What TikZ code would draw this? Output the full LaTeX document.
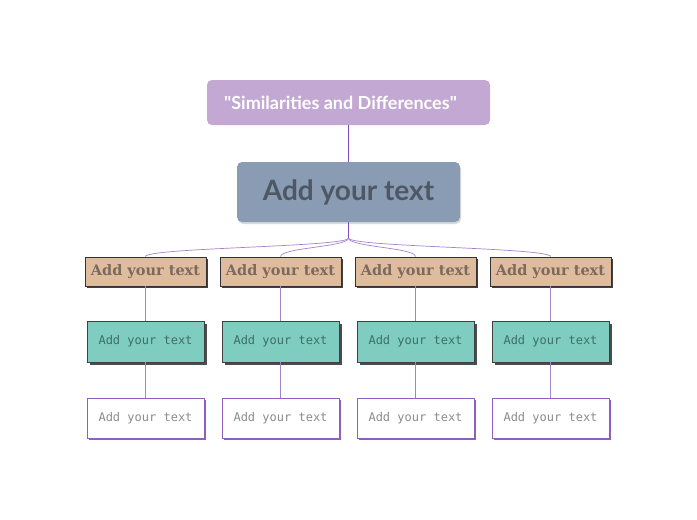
\documentclass[tikz,border=0pt]{standalone}
\usepackage{fontspec}
\setmainfont{Lato}[Ligatures=TeXOff]
\newfontfamily\slabfont{DejaVu Serif}
\newfontfamily\codefont{DejaVu Sans Mono}
\usetikzlibrary{shadows}

\definecolor{titlepurple}{HTML}{C3A8D3}
\definecolor{mainblue}{HTML}{8A9CB4}
\definecolor{maintext}{HTML}{4E5864}
\definecolor{sidetan}{HTML}{E0BC9F}
\definecolor{sidetext}{HTML}{7C6A5C}
\definecolor{noteteal}{HTML}{7ECDC0}
\definecolor{notetext}{HTML}{3E6E66}
\definecolor{blankpurple}{HTML}{8E5FBE}
\definecolor{blanktext}{HTML}{8C8C8C}
\definecolor{linkpurple}{HTML}{A383CB}
\definecolor{linkdark}{HTML}{7E4FB0}

\begin{document}
\begin{tikzpicture}[x=1pt, y=-1pt,
    link/.style = {draw = linkpurple, line width = 0.7pt},
    titlebox/.style = {fill = titlepurple, rounded corners = 5pt, text = white,
      minimum width = 283pt, minimum height = 45pt, inner sep = 0pt,
      font = \fontsize{18}{21}\selectfont\bfseries},
    mainbox/.style = {fill = mainblue, rounded corners = 5pt, text = maintext,
      minimum width = 223pt, minimum height = 60pt, inner sep = 0pt,
      drop shadow = {shadow xshift = 1pt, shadow yshift = -2pt, fill = black, opacity = 0.15},
      font = \fontsize{28}{32}\selectfont\bfseries},
    sidebox/.style = {fill = sidetan, draw = black!80, line width = 0.8pt, text = sidetext,
      minimum width = 121pt, minimum height = 29pt, inner sep = 0pt,
      drop shadow = {shadow xshift = 2pt, shadow yshift = -2pt, fill = black!75, opacity = 1},
      font = \slabfont\bfseries\fontsize{14.5}{17}\selectfont},
    notebox/.style = {fill = noteteal, draw = black!75, line width = 0.8pt, text = notetext,
      minimum width = 117pt, minimum height = 41pt, inner sep = 0pt,
      drop shadow = {shadow xshift = 2.5pt, shadow yshift = -2.5pt, fill = black!70, opacity = 1},
      font = \codefont\fontsize{12}{14}\selectfont},
    blankbox/.style = {fill = white, draw = blankpurple, line width = 0.8pt, text = blanktext,
      minimum width = 117pt, minimum height = 40pt, inner sep = 0pt,
      drop shadow = {shadow xshift = 2pt, shadow yshift = -2pt, fill = blankpurple, opacity = 1},
      font = \codefont\fontsize{12}{14}\selectfont}]
  \useasboundingbox [fill = white] (0,0) rectangle (697,520);

  \node [titlebox] (title) at (348.5,102.5) {"Similarities and Differences"\kern16pt};
  \node [mainbox] (main) at (348.5,192) {Add your text};
  \draw [link, draw = linkdark] (title) -- (main);

  \coordinate (fork) at (348.5,238);
  \draw [link, draw = linkdark] (main.south) -- (fork);

  \foreach \i/\x in {1/145.5, 2/280.5, 3/415.5, 4/550.5} {
    \node [sidebox] (side\i) at (\x,271.5) {Add your text};
    \node [notebox] (note\i) at (\x,341.5) {Add your text};
    \node [blankbox] (blank\i) at (\x,418) {Add your text};
    \draw [link] (fork) .. controls +(0,9) and +(0,-9) .. (side\i.north);
    \draw [link] (side\i) -- (note\i);
    \draw [link] (note\i) -- (blank\i);
  }
\end{tikzpicture}
\end{document}
